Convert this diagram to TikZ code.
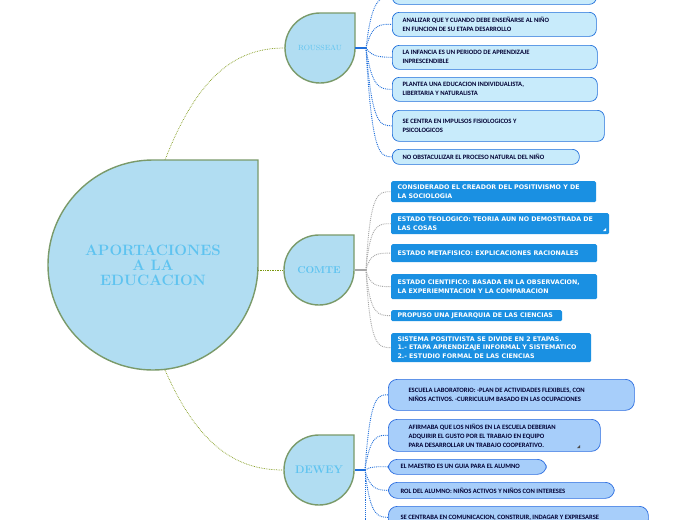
\documentclass[tikz,border=0pt]{standalone}
\usepackage{fontspec}
\newfontfamily\carl{Carlito}
\newfontfamily\djv{DejaVu Sans}
\begin{document}
\begin{tikzpicture}[x=1pt,y=-1pt,
 drop/.style={draw=drbord,line width=1.4pt,fill=drfill},
 rbox/.style={draw=bbord,fill=rfill,line width=0.7pt,rounded corners=7pt,anchor=north west,inner sep=0pt},
 cbox/.style={fill=cfill,rounded corners=1.5pt,anchor=north west,inner sep=0pt},
 dbox/.style={draw=dbord,fill=dfill,line width=0.7pt,rounded corners=9pt,anchor=north west,inner sep=0pt},
 rtxt/.style={font=\carl\bfseries\fontsize{6.6}{9}\selectfont,text=black!80!blue,align=left,anchor=west},
 ctxt/.style={font=\djv\bfseries\fontsize{6.3}{8.2}\selectfont,text=white,align=left,anchor=west},
 bconn/.style={draw=bbord,densely dotted,line width=0.9pt},
 gconn/.style={draw=gray!70,densely dotted,line width=0.9pt},
 grconn/.style={draw=olive!70!green,densely dotted,line width=0.7pt},
 lab/.style={font=\fontsize{#1}{#1}\selectfont,text=labc,align=center}]
\definecolor{drfill}{HTML}{B1DDF2}
\definecolor{drbord}{HTML}{7A9A6A}
\definecolor{bbord}{HTML}{1F6FDB}
\definecolor{rfill}{HTML}{C8EBFB}
\definecolor{cfill}{HTML}{1A90E2}
\definecolor{dbord}{HTML}{2B6DE0}
\definecolor{dfill}{HTML}{A7CEFA}
\definecolor{labc}{HTML}{5EC3F0}
\fill[white] (0,0) rectangle (697,520);
\useasboundingbox (0,0) rectangle (697,520);
\newcommand\teardrop[4]{\draw[drop] (#1,#2-#3) -- (#1+#3,#2-#3) -- (#1+#3,#2) arc[start angle=0,end angle=270,radius=#3] -- cycle;
 \node[coordinate] (#4) at (#1,#2) {};}
\coordinate (m1) at (165,160); \coordinate (m2) at (258,270); \coordinate (m3) at (165,370);
\coordinate (r) at (285,48); \coordinate (c) at (283,270); \coordinate (d) at (283,470);
\draw[grconn] (m1) .. controls (200,70) and (240,48) .. (r);
\draw[grconn] (m2) -- (c);
\draw[grconn] (m3) .. controls (200,450) and (240,470) .. (d);
\teardrop{153}{265}{105}{main}
\teardrop{320}{48}{35}{rou}
\teardrop{319}{270}{35}{com}
\teardrop{319}{470}{35}{dew}
\node[lab=15,font=\bfseries\fontsize{15}{15}\selectfont] at (main) {APORTACIONES\\A LA\\EDUCACION};
\node[lab=7.5] at (rou) {ROUSSEAU};
\node[lab=10,font=\bfseries\fontsize{10}{10}\selectfont] at (com) {COMTE};
\node[lab=11,font=\bfseries\fontsize{11}{11}\selectfont] at (dew) {DEWEY};
% Rousseau
\coordinate (rh) at (366,48);
\draw[bbord,line width=2pt] (355,48) -- (rh);
\foreach \n/\y/\w/\h/\t in {r1/-10/204/14/{},
 r2/12/204/24/{ANALIZAR QUE Y CUANDO DEBE ENSEÑARSE AL NIÑO\\EN FUNCION DE SU ETAPA DESARROLLO},
 r3/45/205/24/{LA INFANCIA ES UN PERIODO DE APRENDIZAJE\\INPRESCENDIBLE},
 r4/77/205/24/{PLANTEA UNA EDUCACION INDIVIDUALISTA,\\LIBERTARIA Y NATURALISTA},
 r5/110/212/31/{SE CENTRA EN IMPULSOS FISIOLOGICOS Y\\PSICOLOGICOS},
 r6/149/187/15/{NO OBSTACULIZAR EL PROCESO NATURAL DEL NIÑO}}{
 \node[rbox,minimum width=\w pt,minimum height=\h pt] (\n) at (392,\y) {};
 \draw[bconn] (rh) .. controls (372,\y+\h/2) and (380,\y+\h/2) .. (\n.west);
 \node[rtxt] at ([xshift=7pt]\n.west) {\t};}
% Comte
\coordinate (ch) at (366,270);
\draw[gray!70,line width=1.5pt] (355,270) -- (ch);
\foreach \n/\y/\w/\h/\t in {
 c1/181/205/21/{CONSIDERADO EL CREADOR DEL POSITIVISMO Y DE\\LA SOCIOLOGIA},
 c2/213/218/21/{ESTADO TEOLOGICO: TEORIA AUN NO DEMOSTRADA DE\\LAS COSAS},
 c3/244/206/18/{ESTADO METAFISICO: EXPLICACIONES RACIONALES},
 c4/274/206/25/{ESTADO CIENTIFICO: BASADA EN LA OBSERVACION,\\LA EXPERIEMNTACION Y LA COMPARACION},
 c5/310/171/11/{PROPUSO UNA JERARQUIA DE LAS CIENCIAS},
 c6/333/200/29/{SISTEMA POSITIVISTA SE DIVIDE EN 2 ETAPAS.\\1.- ETAPA APRENDIZAJE INFORMAL Y SISTEMATICO\\2.- ESTUDIO FORMAL DE LAS CIENCIAS}}{
 \node[cbox,minimum width=\w pt,minimum height=\h pt] (\n) at (391,\y) {};
 \draw[gconn] (ch) .. controls (370,\y+\h/2) and (378,\y+\h/2) .. (\n.west);
 \node[ctxt] at ([xshift=3pt]\n.west) {\t};}
\fill[white] (606,231) -- (603,231) -- (606,228) -- cycle;
% Dewey
\coordinate (dh) at (365,470);
\draw[bbord,line width=2pt] (355,470) -- (dh);
\coordinate (dend) at (365,520);
\draw[bconn] (dh) -- (dend);
\foreach \n/\y/\w/\h/\t/\s in {
 d1/379/246/31/{ESCUELA LABORATORIO: -PLAN DE ACTIVIDADES FLEXIBLES, CON\\NIÑOS ACTIVOS. -CURRICULUM BASADO EN LAS OCUPACIONES}/17,
 d2/419/212/32/{AFIRMABA QUE LOS NIÑOS EN LA ESCUELA DEBERIAN\\ADQUIRIR EL GUSTO POR EL TRABAJO EN EQUIPO\\PARA DESARROLLAR UN TRABAJO COOPERATIVO.}/17,
 d3/459/158/15/{EL MAESTRO ES UN GUIA PARA EL ALUMNO}/9,
 d4/482/226/16/{ROL DEL ALUMNO: NIÑOS ACTIVOS Y NIÑOS CON INTERESES}/9,
 d5/506/260/22/{SE CENTRABA EN COMUNICACION, CONSTRUIR, INDAGAR Y EXPRESARSE}/9}{
 \node[dbox,minimum width=\w pt,minimum height=\h pt] (\n) at (388,\y) {};
 \draw[bconn] (dh) .. controls (370,\y+\h/2) and (378,\y+\h/2) .. (\n.west);
 \node[rtxt] at ([xshift=\s pt]\n.west) {\t};}
\fill[black!70] (580,448) -- (577,448) -- (580,445) -- cycle;
\end{tikzpicture}
\end{document}
